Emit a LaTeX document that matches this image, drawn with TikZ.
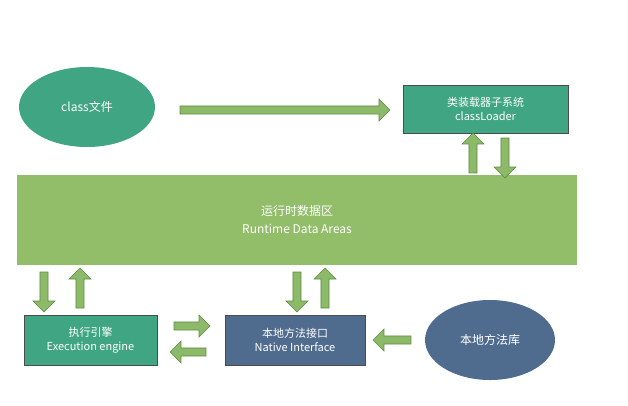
\documentclass[tikz,border=0pt]{standalone}
\usepackage{fontspec}
\setmainfont{Noto Sans CJK SC}
\usetikzlibrary{shapes.geometric,shapes.arrows}
\definecolor{teal}{HTML}{3FA583}
\definecolor{lg}{HTML}{92BE6A}
\definecolor{sb}{HTML}{4F6B8D}
\definecolor{ag}{HTML}{8DBA68}
\definecolor{ao}{HTML}{5E8A45}
\begin{document}
\begin{tikzpicture}[x=1pt,y=-1pt,
  box/.style={draw=black!70,line width=0.8pt,text=white,align=center,font=\fontsize{11}{14}\selectfont},
  ell/.style={ellipse,text=white,align=center,font=\fontsize{12}{15}\selectfont},
  arr/.style={single arrow,draw=ao,fill=ag,line width=0.6pt,minimum height=#1,minimum width=22pt,single arrow head extend=4pt,inner sep=2pt},
]
\useasboundingbox (0,0) rectangle (628,405);
\node[ell,fill=teal,minimum width=136pt,minimum height=80pt] (cf) at (87,107) {class文件};
\node[box,fill=teal,minimum width=165pt,minimum height=48pt] (cl) at (485.5,109) {类装载器子系统\\classLoader};
\node[box,fill=lg,draw=none,minimum width=560pt,minimum height=90pt,font=\fontsize{12}{18}\selectfont] (rt) at (297,220) {运行时数据区\\Runtime Data Areas};
\node[box,fill=teal,minimum width=133pt,minimum height=50pt] (ee) at (90.5,340) {执行引擎\\\textit{Execution engine}};
\node[box,fill=sb,minimum width=140pt,minimum height=50pt] (ni) at (295,340) {本地方法接口\\Native Interface};
\node[ell,fill=sb,minimum width=130pt,minimum height=80pt] (nl) at (490,340) {本地方法库};
% arrows
\node[arr=210pt] (a1) at (283,110) {};
\node[arr=40pt,rotate=90] (a2) at (473,155) {};
\node[arr=40pt,rotate=-90] (a3) at (505,156) {};
\node[arr=40pt,rotate=-90] (a4) at (44,290) {};
\node[arr=40pt,rotate=90] (a5) at (80,290) {};
\node[arr=40pt,rotate=-90] (a6) at (297,290) {};
\node[arr=40pt,rotate=90] (a7) at (325,290) {};
\node[arr=36pt] (a8) at (190,326) {};
\node[arr=36pt,rotate=180] (a9) at (190,352) {};
\node[arr=38pt,rotate=180] (a10) at (394,340) {};
\end{tikzpicture}
\end{document}
